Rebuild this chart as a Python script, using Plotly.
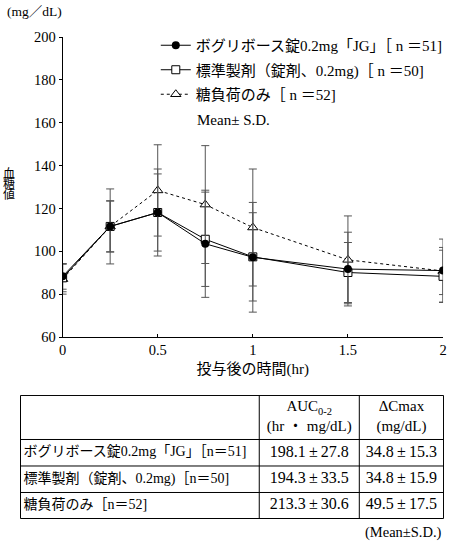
import plotly.graph_objects as go

# time points (hr)
times = [0, 0.25, 0.5, 0.75, 1, 1.5, 2]

# mean blood glucose (mg/dL) and SD
jg_mean = [88.3, 111.6, 118.1, 103.5, 97.2, 91.7, 91.0]
jg_sd = [6.0, 12.0, 20.3, 25.0, 25.6, 17.2, 14.7]

std_mean = [87.6, 111.6, 118.1, 105.6, 97.4, 90.1, 88.3]
std_sd = [6.5, 11.8, 18.0, 22.0, 20.6, 14.0, 12.2]

load_mean = [87.0, 111.6, 128.4, 121.8, 111.1, 96.0, 90.8]
load_sd = [7.0, 17.5, 21.3, 27.5, 27.3, 20.5, 11.0]

legend_names = [
    'ボグリボース錠0.2mg「JG」［ n ＝51]',
    '標準製剤（錠剤、0.2mg)［ n ＝50]',
    '糖負荷のみ［ n ＝52]',
]

# table contents
tbl_header = ['AUC<sub>0-2</sub><br>(hr ・ mg/dL)', 'ΔCmax<br>(mg/dL)']
tbl_names = ['ボグリボース錠0.2mg「JG」［n＝51]', '標準製剤（錠剤、0.2mg)［n＝50]', '糖負荷のみ［n＝52]']
tbl_auc = ['198.1\u2009±\u200927.8', '194.3\u2009±\u200933.5', '213.3\u2009±\u200930.6']
tbl_cmax = ['34.8\u2009±\u200915.3', '34.8\u2009±\u200915.9', '49.5\u2009±\u200917.5']

FONT = 'Liberation Serif, Noto Sans CJK JP, serif'
ERR_COLOR = '#555555'

# table grid, in pixels (x2 / y2 axes are set 1 unit = 1 px)
col_w = [241, 101, 85]
row_h = [44, 26.5, 26.5, 26]
col_edges = [0]
for w in col_w:
    col_edges.append(col_edges[-1] + w)
row_edges = [0]
for h in row_h:
    row_edges.append(row_edges[-1] + h)
col_mid = [(col_edges[i] + col_edges[i + 1]) / 2 for i in range(len(col_w))]
row_mid = [(row_edges[i] + row_edges[i + 1]) / 2 for i in range(len(row_h))]


def err(sd):
    return dict(type='data', array=sd, visible=True, color=ERR_COLOR, thickness=1, width=4)


fig = go.Figure()

# drawn back to front: triangle, square, circle
fig.add_trace(go.Scatter(
    x=times, y=load_mean, error_y=err(load_sd), name=legend_names[2],
    mode='lines+markers', legendgroup='c', legendrank=3,
    line=dict(color='black', width=1, dash='dot'),
    marker=dict(symbol='triangle-up', size=9, color='white', line=dict(color='black', width=1)),
))
fig.add_trace(go.Scatter(
    x=times, y=std_mean, error_y=err(std_sd), name=legend_names[1],
    mode='lines+markers', legendgroup='b', legendrank=2,
    line=dict(color='black', width=1),
    marker=dict(symbol='square', size=8, color='white', line=dict(color='black', width=1)),
))
fig.add_trace(go.Scatter(
    x=times, y=jg_mean, error_y=err(jg_sd), name=legend_names[0],
    mode='lines+markers', legendgroup='a', legendrank=1,
    line=dict(color='black', width=1),
    marker=dict(symbol='circle', size=8, color='black'),
))

# table text
fig.add_trace(go.Scatter(
    x=col_mid[1:], y=[row_mid[0]] * 2, text=tbl_header, mode='text',
    xaxis='x2', yaxis='y2', showlegend=False, hoverinfo='skip',
    textposition='middle center', textfont=dict(family=FONT, size=15, color='black'),
))
fig.add_trace(go.Scatter(
    x=[col_edges[0] + 3] * len(tbl_names), y=row_mid[1:], text=tbl_names, mode='text',
    xaxis='x2', yaxis='y2', showlegend=False, hoverinfo='skip',
    textposition='middle right', textfont=dict(family=FONT, size=14, color='black'),
))
fig.add_trace(go.Scatter(
    x=[col_mid[1]] * len(tbl_auc) + [col_mid[2]] * len(tbl_cmax),
    y=row_mid[1:] + row_mid[1:], text=tbl_auc + tbl_cmax, mode='text',
    xaxis='x2', yaxis='y2', showlegend=False, hoverinfo='skip',
    textposition='middle center', textfont=dict(family=FONT, size=16, color='black'),
))

grid = []
for yv in row_edges:
    grid.append(dict(type='line', xref='x2', yref='y2', x0=col_edges[0], x1=col_edges[-1],
                     y0=yv, y1=yv, line=dict(color='black', width=1)))
for xv in col_edges:
    grid.append(dict(type='line', xref='x2', yref='y2', x0=xv, x1=xv,
                     y0=row_edges[0], y1=row_edges[-1], line=dict(color='black', width=1)))

fig.update_layout(
    width=454, height=546,
    margin=dict(l=20, r=3, t=37, b=27),
    paper_bgcolor='white', plot_bgcolor='white',
    font=dict(family=FONT, size=14, color='black'),
    showlegend=True,
    shapes=grid,
    legend=dict(
        x=0.318, y=1.0166, xanchor='left', yanchor='top',
        bgcolor='rgba(0,0,0,0)', traceorder='grouped', tracegroupgap=2,
        font=dict(family=FONT, size=15, color='black'),
        itemwidth=30,
    ),
    xaxis=dict(
        domain=[0.0998, 0.9907], range=[0, 2],
        tickvals=[0, 0.5, 1, 1.5, 2], ticktext=['0', '0.5', '1', '1.5', '2'],
        ticks='inside', ticklen=3, tickcolor='black',
        showline=True, linecolor='black', linewidth=1,
        showgrid=False, zeroline=False, tickfont=dict(size=14.5),
        title=dict(text='投与後の時間(hr)', font=dict(size=15), standoff=6),
    ),
    yaxis=dict(
        domain=[0.3776, 1], range=[60, 200], dtick=20,
        ticks='outside', ticklen=3, tickcolor='black',
        showline=True, linecolor='black', linewidth=1,
        showgrid=False, zeroline=False, tickfont=dict(size=14.5),
    ),
    xaxis2=dict(domain=[0, 0.993], range=[-0.5, 427.5], visible=False, fixedrange=True),
    yaxis2=dict(domain=[0, 0.2573], range=[123.5, -0.5], visible=False, fixedrange=True),
    annotations=[
        dict(text='(mg／dL)', xref='paper', yref='paper', x=-0.0348, y=1.0519,
             xanchor='left', yanchor='middle', showarrow=False, font=dict(size=13.5)),
        dict(text='血', xref='paper', yref='paper', x=-0.0255, y=0.7158,
             xanchor='center', yanchor='middle', showarrow=False, font=dict(size=12)),
        dict(text='糖', xref='paper', yref='paper', x=-0.0255, y=0.694,
             xanchor='center', yanchor='middle', showarrow=False, font=dict(size=12)),
        dict(text='値', xref='paper', yref='paper', x=-0.0255, y=0.6722,
             xanchor='center', yanchor='middle', showarrow=False, font=dict(size=12)),
        dict(text='Mean± S.D.', xref='paper', yref='paper', x=0.4107, y=0.8278,
             xanchor='left', yanchor='middle', showarrow=False, font=dict(size=15)),
        dict(text='(Mean±S.D.)', xref='paper', yref='paper', x=0.993, y=-0.027,
             xanchor='right', yanchor='middle', showarrow=False, font=dict(size=14.5)),
    ],
)

# page body has an 8px default margin; drop it so the figure sits at the corner
fig.write_html('out.html', config={'displayModeBar': False},
               post_script="document.body.style.margin='0';")
